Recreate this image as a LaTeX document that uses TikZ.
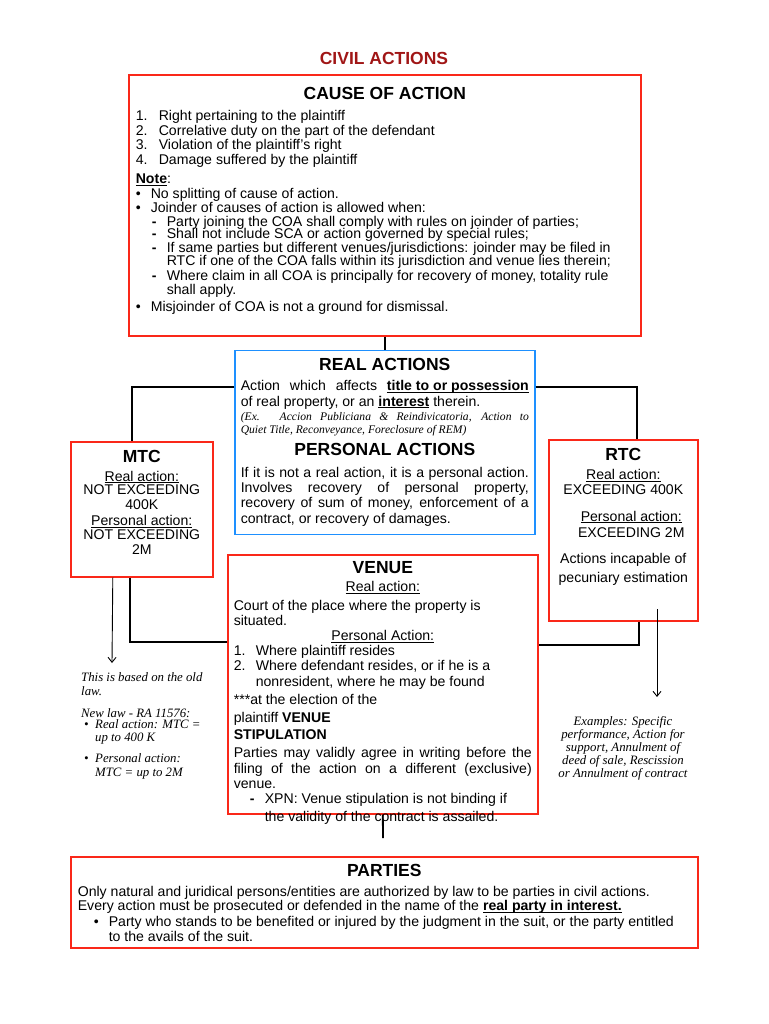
\documentclass[tikz,border=0pt]{standalone}
\usepackage{fontspec}
\setmainfont{Liberation Sans}
\newfontfamily\notefont{Liberation Serif}
\usetikzlibrary{arrows.meta, positioning}
\definecolor{boxred}{RGB}{250,40,25}
\definecolor{boxblue}{RGB}{30,144,255}
\definecolor{titlered}{RGB}{160,22,22}
\newsavebox{\ulbox}
\newcommand{\uln}[1]{\leavevmode\sbox{\ulbox}{#1}\rlap{\rule[-1.9pt]{\wd\ulbox}{0.8pt}}\usebox{\ulbox}}
\newcommand{\boxhead}[1]{{\centering\fontsize{17.5}{18}\selectfont\bfseries #1\par}}
\newcommand{\ubf}[1]{\uln{\textbf{#1}}}
\newcommand{\dashitem}{\hspace*{16pt}\makebox[15pt][l]{\textbf{-}}}
\setlength{\parindent}{0pt}

\begin{document}
\begin{tikzpicture}[x=1pt, y=1pt,
    redbox/.style={draw=boxred, line width=1.6pt, inner xsep=6pt, inner ysep=0pt, anchor=north west, font=\fontsize{14.1}{14.6}\selectfont},
    bluebox/.style={redbox, draw=boxblue},
    link/.style={line width=1.8pt},
    notearrow/.style={-{Straight Barb[length=5pt, width=8pt]}, line width=0.9pt},
    notetext/.style={inner sep=0pt, font=\notefont\itshape\fontsize{12.8}{13}\selectfont}]
    \useasboundingbox (0,0) rectangle (768,-1024);
    % Title and cause of action
    \node (title) [text=titlered, font=\fontsize{17.5}{18}\selectfont\bfseries] at (384,-58) {CIVIL ACTIONS};
    \node (coa) [redbox, inner xsep=7pt] at (128,-74) {\begin{minipage}[t][261pt][t]{498pt}
        \vspace*{12.5pt}
        \boxhead{CAUSE OF ACTION}
        \vspace{6.5pt}
        \makebox[23pt][l]{1.}Right pertaining to the plaintiff\\
        \makebox[23pt][l]{2.}Correlative duty on the part of the defendant\\
        \makebox[23pt][l]{3.}Violation of the plaintiff’s right\\[0.3pt]
        \makebox[23pt][l]{4.}Damage suffered by the plaintiff\\[4.2pt]
        \ubf{Note}:\\[0.5pt]
        \makebox[15pt][l]{\textbullet}No splitting of cause of action.\\[-0.5pt]
        \makebox[15pt][l]{\textbullet}Joinder of causes of action is allowed when:\\[-1.2pt]
        \dashitem Party joining the COA shall comply with rules on joinder of parties;\\[-1.8pt]
        \dashitem Shall not include SCA or action governed by special rules;\\[-1.2pt]
        \dashitem If same parties but different venues/jurisdictions: joinder may be filed in\\[-1.2pt]
        \hspace*{31pt}RTC if one of the COA falls within its jurisdiction and venue lies therein;\\[0.5pt]
        \dashitem Where claim in all COA is principally for recovery of money, totality rule\\[-0.5pt]
        \hspace*{31pt}shall apply.\\[2.2pt]
        \makebox[15pt][l]{\textbullet}Misjoinder of COA is not a ground for dismissal.
    \end{minipage}};

    % Real and personal actions
    \node (real) [bluebox, anchor=north, below=13pt of coa] {\begin{minipage}[t][184pt][t]{288pt}
        \fontsize{14.1}{15.4}\selectfont
        \vspace*{7.8pt}
        \boxhead{REAL ACTIONS}
        \vspace{4.8pt}
        Action which affects \ubf{title to or possession}\linebreak of real property, or an \ubf{interest} therein.\par
        \vspace{1.2pt}
        {\notefont\itshape\fontsize{11.6}{13}\selectfont (Ex. Accion Publiciana \& Reindivicatoria, Action to\linebreak Quiet Title, Reconveyance, Foreclosure of REM)\par}
        \vspace{4.3pt}
        \boxhead{PERSONAL ACTIONS}
        \vspace{6.1pt}
        If it is not a real action, it is a personal action.\linebreak Involves recovery of personal property,\linebreak recovery of sum of money, enforcement of a\linebreak contract, or recovery of damages.
    \end{minipage}};

    % Courts
    \node (mtc) [redbox] at (70,-441) {\begin{minipage}[t][135pt][t]{130pt}
        \centering
        \vspace*{8.5pt}
        \boxhead{MTC}
        \vspace{4.2pt}
        \uln{Real action:}\\[-1pt]
        NOT EXCEEDING\\
        400K\\[1.5pt]
        \uln{Personal action:}\\[-0.5pt]
        NOT EXCEEDING\\[0.5pt]
        2M
    \end{minipage}};
    \node (rtc) [redbox] at (548,-439) {\begin{minipage}[t][181pt][t]{137pt}
        \centering
        \vspace*{8.8pt}
        \boxhead{RTC}
        \vspace{4.2pt}
        \uln{Real action:}\\
        EXCEEDING 400K\\[12.2pt]
        \hspace*{16pt}\uln{Personal action:}\\[1.8pt]
        \hspace*{16pt}EXCEEDING 2M\\[11.2pt]
        Actions incapable of\\[4.5pt]
        pecuniary estimation
    \end{minipage}};

    % Venue
    \node (venue) [redbox] at (227,-554) {\begin{minipage}[t][259pt][t]{298pt}
        \fontsize{14.1}{15.2}\selectfont
        \vspace*{6.8pt}
        \boxhead{VENUE}
        \vspace{2.6pt}
        {\centering\uln{Real action:}\par}
        \vspace{3.5pt}
        Court of the place where the property is\\
        situated.\par
        {\centering\uln{Personal Action:}\par}
        \makebox[22pt][l]{1.}Where plaintiff resides\\
        \makebox[22pt][l]{2.}Where defendant resides, or if he is a\\[0.8pt]
        \hspace*{22pt}nonresident, where he may be found\\[2.5pt]
        ***at the election of the\\[2.8pt]
        plaintiff \textbf{VENUE}\\[1.8pt]
        \textbf{STIPULATION}\par
        \vspace{3.1pt}
        Parties may validly agree in writing before the\linebreak filing of the action on a different (exclusive)\linebreak venue.\par
        \dashitem XPN: Venue stipulation is not binding if\\[2.8pt]
        \hspace*{31pt}the validity of the contract is assailed.
    \end{minipage}};

    % Parties
    \node (parties) [redbox, inner xsep=7pt] at (70,-856) {\begin{minipage}[t][91pt][t]{613pt}
        \fontsize{14.1}{15.3}\selectfont
        \vspace*{7.8pt}
        \boxhead{PARTIES}
        \vspace{4.2pt}
        Only natural and juridical persons/entities are authorized by law to be parties in civil actions.\\[-1pt]
        Every action must be prosecuted or defended in the name of the \ubf{real party in interest.}\\[0.7pt]
        \hspace*{16pt}\makebox[15pt][l]{\textbullet}Party who stands to be benefited or injured by the judgment in the suit, or the party entitled\\
        \hspace*{31pt}to the avails of the suit.
    \end{minipage}};

    % Side notes
    \node (oldlaw) [notetext, anchor=north west, align=left] at (81,-672.5) {This is based on the old\\[1pt]
        law.\\[9pt]
        New law - RA 11576:\\[-1.7pt]
        \hspace*{3pt}\makebox[11pt][l]{\textbullet}Real action: MTC =\\
        \hspace*{14pt}up to 400 K\\[8pt]
        \hspace*{3pt}\makebox[11pt][l]{\textbullet}Personal action:\\[0.7pt]
        \hspace*{14pt}MTC = up to 2M};
    \node (examples) [notetext, anchor=north, align=center] at (623,-716.4) {Examples: Specific\\
        performance, Action for\\
        support, Annulment of\\
        deed of sale, Rescission\\
        or Annulment of contract};
    \coordinate (oldtip) at (112,-663);
    \coordinate (rtcstart) at (657,-609);
    \coordinate (extip) at (657,-697);
    \coordinate (stub) at (383,-838);

    % Connectors
    \draw[link] (coa.south) -- (coa.south |- real.north);
    \draw[link] ([yshift=-37pt]real.north west) -| ([xshift=-10pt]mtc.north);
    \draw[link] ([yshift=-37pt]real.north east) -| ([xshift=13.5pt]rtc.north);
    \draw[link] ([xshift=-12pt]mtc.south) |- ([yshift=-88pt]venue.north west);
    \draw[link] ([xshift=15.5pt]rtc.south) |- ([yshift=-91pt]venue.north east);
    \draw[link] (venue.south) -- (stub);
    \draw[notearrow] ([xshift=-29pt]mtc.south) -- (oldtip);
    \draw[notearrow] (rtcstart) -- (extip);
\end{tikzpicture}
\end{document}
